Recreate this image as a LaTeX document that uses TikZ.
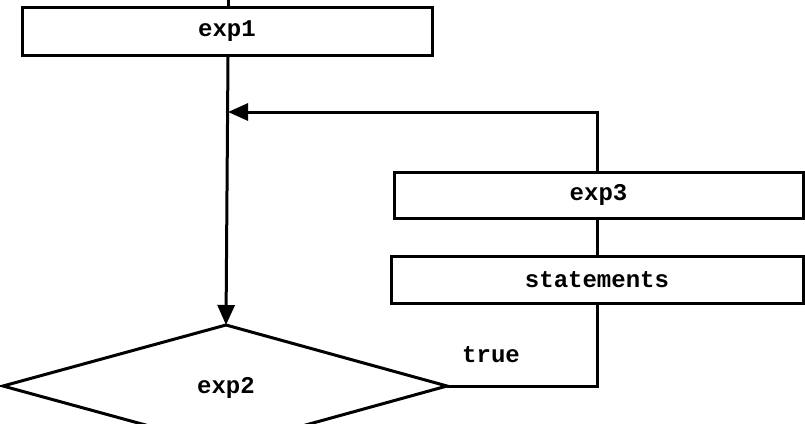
\documentclass[tikz,border=0pt]{standalone}
\usepackage{fontspec}
\setmonofont{Liberation Mono}
\usetikzlibrary{arrows.meta}
\begin{document}
\begin{tikzpicture}[x=1pt,y=-1pt,
  line width=3pt,
  box/.style={draw,rectangle,line width=3pt,inner sep=0pt},
  lbl/.style={font=\ttfamily\bfseries\fontsize{24}{26}\selectfont},
  arr/.style={-{Triangle[length=20pt,width=17pt]}}]
\useasboundingbox (0,0) rectangle (805,423);
\node[box,minimum width=410pt,minimum height=48pt] (e1) at (227,31) {};
\node[lbl] at (e1) {exp1};
\node[box,minimum width=409pt,minimum height=46pt] (e3) at (598.5,195) {};
\node[lbl] at (e3) {exp3};
\node[box,minimum width=412pt,minimum height=47pt] (st) at (597,279.5) {};
\node[lbl] at (st) {statements};
\coordinate (dt) at (226,325);
\coordinate (dr) at (447,386);
\coordinate (dl) at (3,386);
\coordinate (db) at (226,447);
\draw[line join=miter] (dt) -- (dr) -- (db) -- (dl) -- cycle;
\node[lbl] (e2) at (226,388) {exp2};
\coordinate (top) at (228,0);
\draw (top) -- (e1.north -| top);
\draw[arr] (e1.south -| top) -- (dt);
\coordinate (c1) at (597,386);
\coordinate (c2) at (597,112);
\coordinate (c3) at (228,112);
\draw (dr) -- (c1) -- (st.south -| c1);
\draw (st.north -| c1) -- (e3.south -| c1);
\draw[arr] (e3.north -| c1) -- (c2) -- (c3);
\node[lbl] (tr) at (491,355) {true};
\end{tikzpicture}
\end{document}
